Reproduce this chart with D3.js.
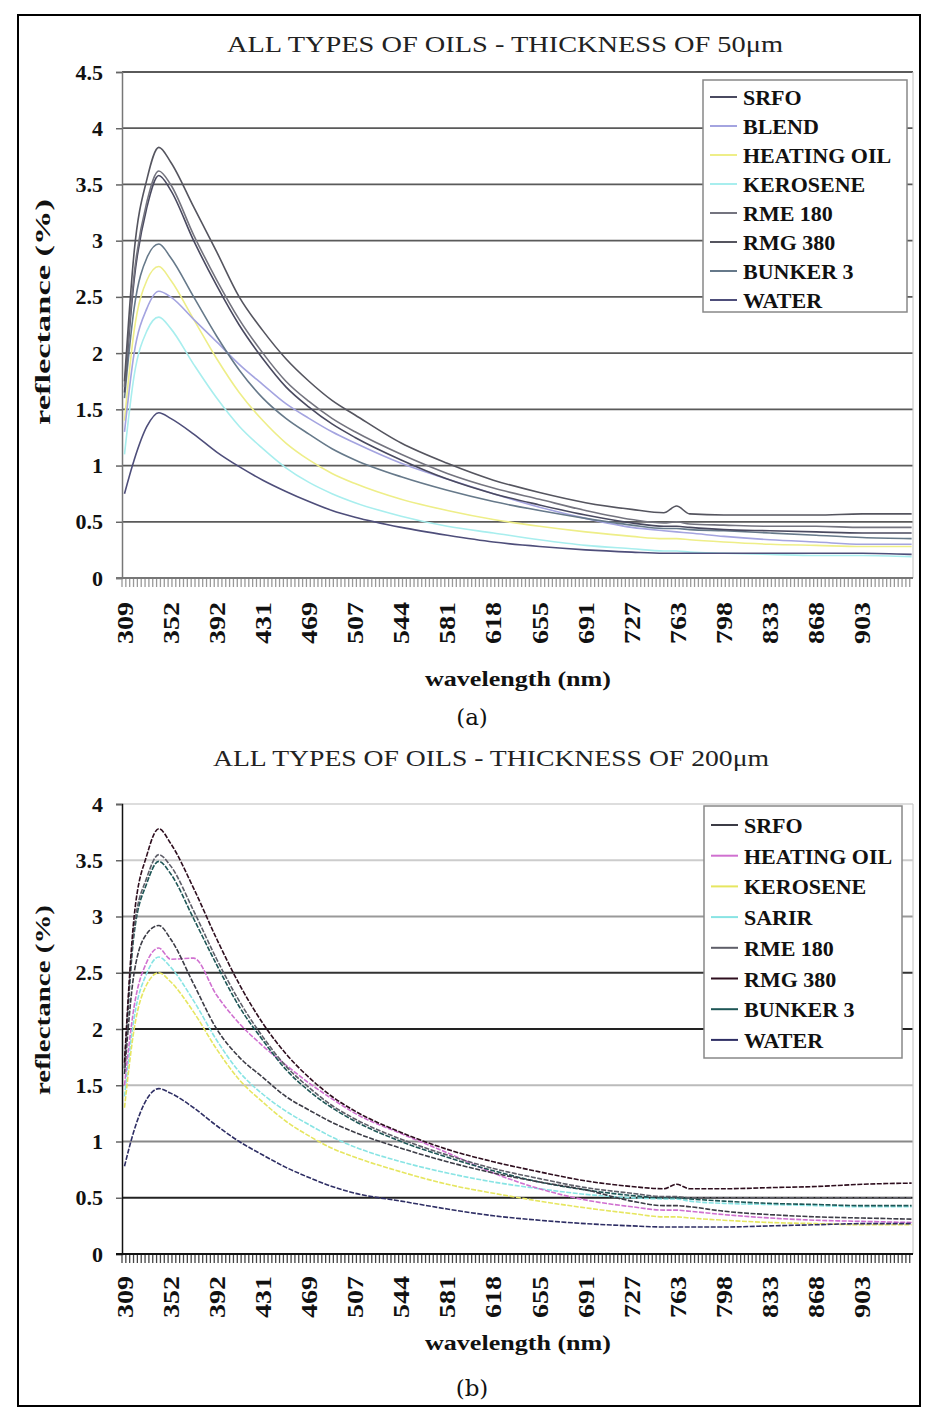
<!DOCTYPE html>
<html><head><meta charset="utf-8">
<script src="https://cdn.jsdelivr.net/npm/d3@7/dist/d3.min.js"></script>
<style>body{margin:0;background:#fff}</style>
</head><body><svg id="c" width="947" height="1424"></svg>
<script>
// ---------- data ----------
const wavelengths = [309,318,330,341,352,372,392,411,431,450,469,488,507,544,581,618,655,691,727,752,762,772,798,833,868,903,940];
const tickLabels = [309,352,392,431,469,507,544,581,618,655,691,727,763,798,833,868,903];
const yTicksA = [0,0.5,1,1.5,2,2.5,3,3.5,4,4.5];
const yTicksB = [0,0.5,1,1.5,2,2.5,3,3.5,4];

const namesA = ["SRFO","BLEND","HEATING OIL","KEROSENE","RME 180","RMG 380","BUNKER 3","WATER"];
const a_SRFO    = [1.65,2.65,3.30,3.58,3.45,3.00,2.60,2.25,1.95,1.70,1.52,1.37,1.25,1.05,0.88,0.75,0.65,0.56,0.49,0.46,0.46,0.45,0.43,0.42,0.41,0.40,0.40];
const a_BLEND   = [1.30,2.00,2.40,2.55,2.50,2.30,2.10,1.90,1.72,1.55,1.42,1.30,1.20,1.02,0.88,0.75,0.63,0.53,0.45,0.42,0.41,0.40,0.37,0.34,0.32,0.30,0.30];
const a_HEATING = [1.40,2.20,2.65,2.77,2.65,2.30,1.95,1.65,1.40,1.20,1.05,0.93,0.84,0.70,0.60,0.52,0.46,0.41,0.37,0.35,0.35,0.34,0.32,0.30,0.29,0.28,0.28];
const a_KERO    = [1.10,1.80,2.20,2.32,2.22,1.90,1.60,1.35,1.15,0.98,0.85,0.75,0.67,0.55,0.46,0.40,0.34,0.29,0.26,0.24,0.24,0.23,0.22,0.21,0.20,0.20,0.19];
const a_RME180  = [1.70,2.70,3.35,3.62,3.50,3.05,2.65,2.30,2.00,1.75,1.57,1.42,1.30,1.10,0.93,0.80,0.70,0.60,0.52,0.49,0.50,0.48,0.47,0.46,0.46,0.45,0.45];
const a_RMG380  = [1.75,2.90,3.55,3.83,3.70,3.30,2.90,2.50,2.20,1.95,1.75,1.58,1.45,1.20,1.02,0.87,0.76,0.67,0.61,0.58,0.64,0.57,0.56,0.56,0.56,0.57,0.57];
const a_BUNKER  = [1.60,2.40,2.85,2.97,2.85,2.50,2.15,1.85,1.60,1.42,1.28,1.15,1.05,0.90,0.78,0.68,0.60,0.53,0.47,0.44,0.44,0.43,0.42,0.40,0.38,0.36,0.35];
const a_WATER   = [0.75,1.05,1.35,1.47,1.42,1.28,1.12,0.99,0.87,0.77,0.68,0.60,0.54,0.45,0.38,0.32,0.28,0.25,0.23,0.22,0.22,0.22,0.22,0.22,0.22,0.22,0.21];

const namesB = ["SRFO","HEATING OIL","KEROSENE","SARIR","RME 180","RMG 380","BUNKER 3","WATER"];
const b_SRFO    = [1.60,2.50,2.85,2.92,2.80,2.40,2.00,1.75,1.57,1.40,1.28,1.17,1.08,0.94,0.82,0.72,0.64,0.57,0.47,0.43,0.43,0.42,0.38,0.35,0.33,0.32,0.31];
const b_HEATING = [1.50,2.20,2.60,2.72,2.62,2.63,2.30,2.05,1.85,1.68,1.52,1.38,1.25,1.07,0.90,0.72,0.58,0.48,0.42,0.39,0.39,0.38,0.35,0.32,0.30,0.29,0.28];
const b_KERO    = [1.30,2.00,2.40,2.50,2.42,2.15,1.82,1.55,1.35,1.18,1.05,0.94,0.86,0.73,0.62,0.54,0.47,0.41,0.36,0.33,0.33,0.32,0.30,0.28,0.27,0.26,0.26];
const b_SARIR   = [1.40,2.10,2.50,2.64,2.55,2.25,1.90,1.62,1.42,1.27,1.15,1.04,0.95,0.82,0.72,0.64,0.58,0.53,0.50,0.49,0.49,0.47,0.45,0.44,0.43,0.42,0.42];
const b_RME180  = [1.65,2.90,3.35,3.55,3.45,3.05,2.62,2.25,1.93,1.67,1.48,1.32,1.20,1.02,0.88,0.76,0.67,0.59,0.54,0.51,0.51,0.50,0.50,0.50,0.50,0.50,0.50];
const b_RMG380  = [1.70,3.00,3.55,3.78,3.65,3.25,2.80,2.40,2.05,1.78,1.57,1.40,1.27,1.08,0.93,0.82,0.73,0.65,0.60,0.58,0.62,0.58,0.58,0.59,0.60,0.62,0.63];
const b_BUNKER  = [1.65,2.85,3.30,3.49,3.38,2.98,2.57,2.20,1.90,1.64,1.45,1.30,1.18,1.00,0.86,0.74,0.64,0.57,0.52,0.50,0.50,0.49,0.47,0.45,0.44,0.43,0.43];
const b_WATER   = [0.78,1.10,1.38,1.47,1.43,1.30,1.14,1.00,0.88,0.77,0.68,0.60,0.54,0.47,0.40,0.34,0.30,0.27,0.25,0.24,0.24,0.24,0.24,0.25,0.26,0.27,0.27];

const seriesA = [a_SRFO,a_BLEND,a_HEATING,a_KERO,a_RME180,a_RMG380,a_BUNKER,a_WATER];
const seriesB = [b_SRFO,b_HEATING,b_KERO,b_SARIR,b_RME180,b_RMG380,b_BUNKER,b_WATER];
const colorsA = ["#4a4a60","#a4a4e0","#eeee88","#a8eeee","#74747f","#55555f","#66798a","#4e4e7a"];
const colorsB = ["#3c3c46","#d070d0","#e6e660","#88e4e4","#5e5e68","#2e0e1e","#1e5656","#2e2e64"];

// ---------- drawing ----------
const svg = d3.select("#c");
const serif = "'Liberation Serif','Times New Roman',serif";

svg.append("rect").attr("x",18).attr("y",15).attr("width",902).attr("height",1391)
  .attr("fill","none").attr("stroke","#000").attr("stroke-width",2);

function chart(cfg){
  const {left,right,top,bottom,yMax,yTicks,names,series,colors,title,titleX,titleY,
         tag,tagY,legend,gridColor,axisColor,tickColor,dash,xlabY,tickLabY,ylab} = cfg;
  const W = right-left;
  const half = 2.5;
  const step = (W - half) / 17.1;
  const domain = tickLabels.concat([940]);
  const range = domain.map((d,i)=> i<17 ? left+half+i*step : left+half+(16+1.07)*step);
  const x = d3.scaleLinear().domain(domain).range(range).clamp(true);
  const y = d3.scaleLinear().domain([0,yMax]).range([bottom,top]);
  const g = svg.append("g");

  // title
  g.append("text").attr("x",titleX).attr("y",titleY).attr("text-anchor","middle")
    .attr("font-family",serif).attr("font-size",24).attr("fill","#222")
    .attr("textLength",556).attr("lengthAdjust","spacingAndGlyphs").text(title);

  // gridlines
  yTicks.filter(v=>v>0).forEach(v=>{
    g.append("line").attr("x1",left).attr("x2",right).attr("y1",y(v)).attr("y2",y(v))
      .attr("stroke",gridColor(v)).attr("stroke-width",1.8);
  });
  g.append("line").attr("x1",right).attr("x2",right).attr("y1",top).attr("y2",bottom)
    .attr("stroke","#ccc").attr("stroke-width",1.2);

  // y axis
  const yAxis = d3.axisLeft(y).tickValues(yTicks).tickSize(6).tickPadding(13)
    .tickFormat(d=>d3.format("")(d));
  const ya = g.append("g").attr("transform",`translate(${left},0)`).call(yAxis);
  ya.select(".domain").attr("stroke",axisColor).attr("stroke-width",1.5);
  ya.selectAll(".tick line").attr("stroke","#666").attr("stroke-width",1.5);
  ya.selectAll(".tick text").attr("font-family",serif).attr("font-weight","bold")
    .attr("font-size",22).attr("fill","#111");

  // x axis line + dense category ticks
  g.append("line").attr("x1",left-6).attr("x2",right).attr("y1",bottom).attr("y2",bottom)
    .attr("stroke",axisColor).attr("stroke-width",2);
  const minor = d3.range(0, Math.floor(W/(step/12))+1).map(k=>left+k*step/12);
  g.selectAll("line.mt").data(minor).join("line").attr("class","mt")
    .attr("x1",d=>d).attr("x2",d=>d).attr("y1",bottom+1).attr("y2",bottom+9)
    .attr("stroke",tickColor).attr("stroke-width",1.3);
  g.selectAll("text.xl").data(tickLabels).join("text").attr("class","xl")
    .attr("transform",d=>`translate(${x(d)+8},${tickLabY}) rotate(-90)`)
    .attr("text-anchor","end").attr("font-family",serif).attr("font-weight","bold")
    .attr("font-size",23).attr("fill","#111")
    .attr("textLength",42).attr("lengthAdjust","spacingAndGlyphs").text(d=>d);

  // axis titles
  g.append("text").attr("x",518).attr("y",xlabY).attr("text-anchor","middle")
    .attr("font-family",serif).attr("font-weight","bold").attr("font-size",22)
    .attr("fill","#111").attr("textLength",186).attr("lengthAdjust","spacingAndGlyphs")
    .text("wavelength (nm)");
  g.append("text").attr("transform",`translate(50,${ylab.c}) rotate(-90)`)
    .attr("text-anchor","middle").attr("font-family",serif).attr("font-weight","bold")
    .attr("font-size",22).attr("fill","#111").attr("textLength",ylab.len)
    .attr("lengthAdjust","spacingAndGlyphs").text("reflectance (%)");
  g.append("text").attr("x",472).attr("y",tagY).attr("text-anchor","middle")
    .attr("font-family","'DejaVu Serif',serif").attr("font-size",23).attr("fill","#111").text(tag);

  // lines
  const line = d3.line().x((d,i)=>x(wavelengths[i])).y(d=>y(d)).curve(d3.curveMonotoneX);
  const order = [3,2,1,7,6,0,4,5];
  order.forEach(i=>{
    g.append("path").attr("d",line(series[i])).attr("fill","none")
      .attr("stroke",colors[i]).attr("stroke-width",1.6)
      .attr("stroke-dasharray",dash?"5,1.5":null);
  });

  // legend
  const L = legend;
  g.append("rect").attr("x",L.x).attr("y",L.y).attr("width",L.w).attr("height",L.h)
    .attr("fill","#fff").attr("stroke","#888").attr("stroke-width",1.5);
  names.forEach((n,i)=>{
    const cy = L.y0 + i*L.dy;
    g.append("line").attr("x1",L.x+7).attr("x2",L.x+34).attr("y1",cy).attr("y2",cy)
      .attr("stroke",colors[i]).attr("stroke-width",2);
    g.append("text").attr("x",L.x+40).attr("y",cy+8).attr("font-family",serif)
      .attr("font-weight","bold").attr("font-size",22).attr("fill","#111").text(n);
  });
}

chart({left:122,right:913,top:72,bottom:578,yMax:4.5,yTicks:yTicksA,names:namesA,series:seriesA,
  colors:colorsA,title:"ALL TYPES OF OILS - THICKNESS OF 50\u03bcm",titleX:505,titleY:52,
  tag:"(a)",tagY:725,legend:{x:703,y:80,w:204,h:232,y0:97,dy:29},
  gridColor:v=>"#5a5a5a",axisColor:"#777",tickColor:"#999",dash:false,xlabY:686,tickLabY:602,
  ylab:{c:312,len:226}});

const gB = {0.5:"#222",1:"#888",1.5:"#bbb",2:"#222",2.5:"#333",3:"#999",3.5:"#ccc",4:"#ddd"};
chart({left:122,right:913,top:804,bottom:1254,yMax:4,yTicks:yTicksB,names:namesB,series:seriesB,
  colors:colorsB,title:"ALL TYPES OF OILS - THICKNESS OF 200\u03bcm",titleX:491,titleY:766,
  tag:"(b)",tagY:1396,legend:{x:704,y:806,w:198,h:252,y0:825,dy:30.7},
  gridColor:v=>gB[v],axisColor:"#111",tickColor:"#444",dash:true,xlabY:1350,tickLabY:1276,
  ylab:{c:1000,len:190}});
</script></body></html>
